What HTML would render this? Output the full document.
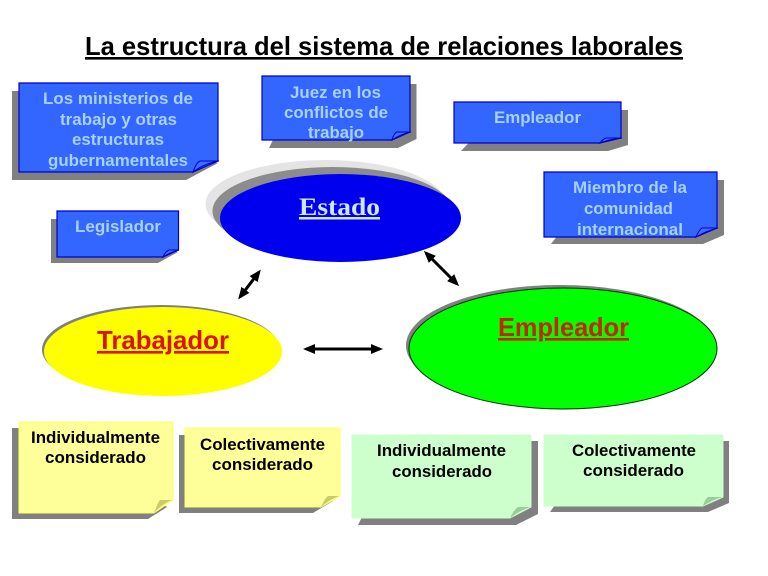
<!DOCTYPE html>
<html><head><meta charset="utf-8"><style>
html,body{margin:0;padding:0;background:#fff;width:768px;height:576px;overflow:hidden}
svg{display:block}
text{font-family:"Liberation Sans",sans-serif;font-weight:bold}
.b{font-size:16.5px;fill:#a6d2ff}
.k{font-size:16.5px;fill:#000}
.sh{fill:#808080}
.bl{fill:#3366ff;stroke:#0000cc;stroke-width:1.2}
.fb{fill:#3d6fff;stroke:#0000cc;stroke-width:1}
.ye{fill:#ffff99;stroke:#ffff66;stroke-width:1}
.fy{fill:#cccc66;stroke:none}
.gr{fill:#ccffcc;stroke:#ccffcc;stroke-width:1}
.fg{fill:#99cc99;stroke:none}
.a{stroke:#000;stroke-width:3;fill:none;marker-start:url(#h);marker-end:url(#h)}
</style></head><body>
<svg width="768" height="576" viewBox="0 0 768 576" xmlns="http://www.w3.org/2000/svg">
<defs><marker id="h" markerUnits="userSpaceOnUse" markerWidth="13" markerHeight="12" refX="9" refY="6" orient="auto-start-reverse"><path d="M0,1 L12,6 L0,11 Z" fill="#000"/></marker></defs>

<text x="85" y="55" font-size="26" textLength="598" lengthAdjust="spacingAndGlyphs" text-decoration="underline" fill="#000">La estructura del sistema de relaciones laborales</text>

<!-- Ministerios -->
<polygon class="sh" points="12,91 30,91 218,163 186,180 12,180"/>
<polygon class="bl" points="19,83 218,83 218,161 193,172 19,172"/>
<path class="fb" d="M193,172 Q196,163 200,161 L219,161 Q205,163 193,172 Z"/>
<text class="b" x="43" y="104" textLength="150" lengthAdjust="spacingAndGlyphs">Los ministerios de</text>
<text class="b" x="60" y="125" textLength="117" lengthAdjust="spacingAndGlyphs">trabajo y otras</text>
<text class="b" x="72" y="145" textLength="92" lengthAdjust="spacingAndGlyphs">estructuras</text>
<text class="b" x="48" y="166" textLength="140" lengthAdjust="spacingAndGlyphs">gubernamentales</text>

<!-- Legislador -->
<polygon class="sh" points="51,219 70,219 178,252 158,263 51,263"/>
<polygon class="bl" points="57,211 178.500,211 178.500,250 163,257 57,257"/>
<path class="fb" d="M163,257 Q165,252 169,250 L179,250 Q171,252 163,257 Z"/>
<text class="b" x="75" y="232" textLength="86" lengthAdjust="spacingAndGlyphs">Legislador</text>

<!-- Juez -->
<polygon class="sh" points="269,148 398,148 416.500,139 416.500,84 300,84"/>
<polygon class="bl" points="262,76 410,76 410,132 392,140 262,140"/>
<path class="fb" d="M392,140 Q394,133 397,132 L411,132 Q401,134 392,140 Z"/>
<text class="b" x="290" y="98" textLength="91" lengthAdjust="spacingAndGlyphs">Juez en los</text>
<text class="b" x="284" y="118" textLength="104" lengthAdjust="spacingAndGlyphs">conflictos de</text>
<text class="b" x="308" y="138" textLength="56" lengthAdjust="spacingAndGlyphs">trabajo</text>

<!-- Empleador azul -->
<polygon class="sh" points="461,151 608,151 628,145 628,110 500,110"/>
<polygon class="bl" points="454,102 621,102 621,138 600,143 454,143"/>
<path class="fb" d="M600,143 Q603,139 606,138 L622,138 Q610,139 600,143 Z"/>
<text class="b" x="494" y="123" textLength="87" lengthAdjust="spacingAndGlyphs">Empleador</text>

<!-- Miembro -->
<polygon class="sh" points="551,244 703,244 724,235 724,180 600,180"/>
<polygon class="bl" points="544,172 717,172 717,228 696,237 544,237"/>
<path class="fb" d="M696,237 Q699,230 702,228 L718,228 Q706,231 696,237 Z"/>
<text class="b" x="573" y="193" textLength="114" lengthAdjust="spacingAndGlyphs">Miembro de la</text>
<text class="b" x="584" y="214" textLength="89" lengthAdjust="spacingAndGlyphs">comunidad</text>
<text class="b" x="577" y="235" textLength="106" lengthAdjust="spacingAndGlyphs">internacional</text>

<!-- Estado -->
<ellipse cx="325.500" cy="204" rx="120" ry="44" fill="#e4e4e4"/>
<ellipse cx="332.500" cy="211" rx="120" ry="44" fill="#8c8c8c"/>
<ellipse cx="340.500" cy="218" rx="120.500" ry="44" fill="#0000ee"/>
<text x="299" y="215" font-size="25" textLength="81" lengthAdjust="spacingAndGlyphs" text-decoration="underline" fill="#cfe6ff" style="font-family:'Liberation Serif',serif">Estado</text>

<!-- Flechas -->
<line class="a" x1="240" y1="297" x2="259" y2="272"/>
<line class="a" x1="426" y1="253" x2="457" y2="284"/>
<line class="a" x1="306" y1="349" x2="380" y2="349"/>

<!-- Trabajador -->
<ellipse cx="161" cy="349.500" rx="119" ry="44.500" fill="#808080"/>
<ellipse cx="163" cy="351.500" rx="119" ry="44.500" fill="#ffff00"/>
<text x="97" y="349" font-size="26" textLength="132" lengthAdjust="spacingAndGlyphs" text-decoration="underline" fill="#dd1100">Trabajador</text>

<!-- Empleador verde -->
<ellipse cx="560" cy="345.500" rx="154" ry="60.500" fill="#808080"/>
<ellipse cx="563" cy="348.500" rx="154" ry="60.500" fill="#00ff00" stroke="#003300" stroke-width="1"/>
<text x="498" y="336" font-size="26" textLength="131" lengthAdjust="spacingAndGlyphs" text-decoration="underline" fill="#cc2200">Empleador</text>

<!-- Amarillos -->
<polygon class="sh" points="12,428 40,428 167,507 148,519 12,519"/>
<polygon class="ye" points="19,422 173,422 173,500 154,513 19,513"/>
<path class="fy" d="M154,513 Q158,502 160,500 L172,500 Q162,504 154,513 Z"/>
<text class="k" x="31" y="443" textLength="129" lengthAdjust="spacingAndGlyphs">Individualmente</text>
<text class="k" x="45" y="463" textLength="101" lengthAdjust="spacingAndGlyphs">considerado</text>

<polygon class="sh" points="179,435 200,435 333,501 313,513 179,513"/>
<polygon class="ye" points="185,428 340,428 340,496 321,507 185,507"/>
<path class="fy" d="M321,507 Q325,498 328,496 L339,496 Q329,500 321,507 Z"/>
<text class="k" x="200" y="450" textLength="125" lengthAdjust="spacingAndGlyphs">Colectivamente</text>
<text class="k" x="212" y="470" textLength="101" lengthAdjust="spacingAndGlyphs">considerado</text>

<!-- Verdes -->
<polygon class="sh" points="358,525 516,525 538,514 538,441 400,441"/>
<polygon class="gr" points="352,435 531,435 531,507 510,518 352,518"/>
<path class="fg" d="M510,518 Q514,510 518,507 L530,507 Q519,511 510,518 Z"/>
<text class="k" x="377" y="456" textLength="129" lengthAdjust="spacingAndGlyphs">Individualmente</text>
<text class="k" x="392" y="477" textLength="100" lengthAdjust="spacingAndGlyphs">considerado</text>

<polygon class="sh" points="550,512 708,512 729,503 729,441 600,441"/>
<polygon class="gr" points="544,435 723,435 723,497 703,506 544,506"/>
<path class="fg" d="M703,506 Q705,499 708,497 L722,497 Q712,500 703,506 Z"/>
<text class="k" x="572" y="456" textLength="124" lengthAdjust="spacingAndGlyphs">Colectivamente</text>
<text class="k" x="583" y="476" textLength="101" lengthAdjust="spacingAndGlyphs">considerado</text>
</svg>
</body></html>
